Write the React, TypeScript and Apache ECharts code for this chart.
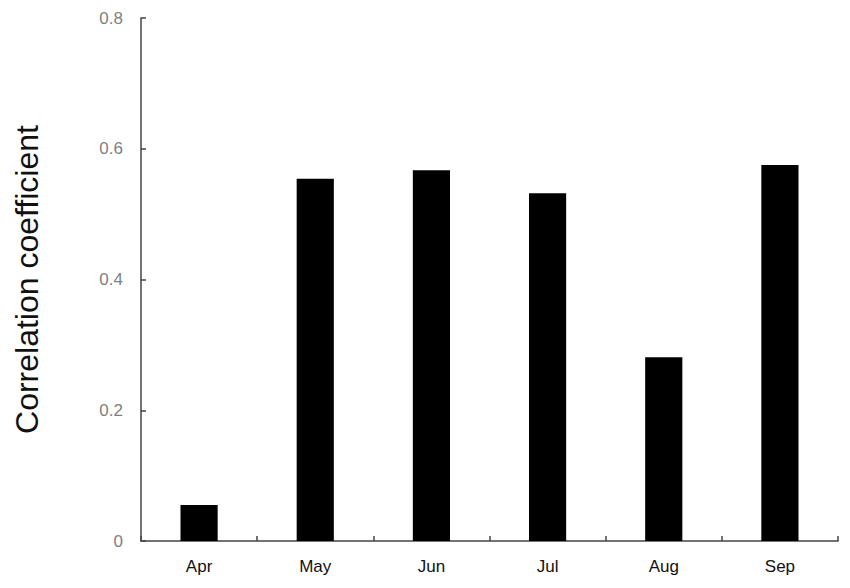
import React, { useEffect, useRef } from "react";
import * as echarts from "echarts";

const months = ["Apr", "May", "Jun", "Jul", "Aug", "Sep"];
const correlation = [0.055, 0.554, 0.567, 0.532, 0.281, 0.575];
const yTicks = [0, 0.2, 0.4, 0.6, 0.8];

const App = () => {
  const chartRef = useRef<HTMLDivElement | null>(null);

  useEffect(() => {
    if (!chartRef.current) return;
    const myChart = echarts.init(chartRef.current, undefined, { renderer: "svg" });

    const option = {
      animation: false,
      backgroundColor: "#fff",
      grid: {
        left: 141,
        right: 12,
        top: 18,
        bottom: 47,
      },
      xAxis: {
        type: "category",
        data: months,
        axisLine: {
          show: true,
          lineStyle: { color: "#444", width: 1.5 },
        },
        axisTick: {
          show: true,
          inside: true,
          length: 5,
          lineStyle: { color: "#444", width: 1.5 },
        },
        axisLabel: {
          color: "#111",
          fontFamily: "Liberation Sans, Arial, sans-serif",
          fontSize: 17,
          margin: 17,
        },
      },
      yAxis: {
        type: "value",
        min: yTicks[0],
        max: yTicks[yTicks.length - 1],
        interval: 0.2,
        name: "Correlation coefficient",
        nameLocation: "middle",
        nameGap: 98,
        nameTextStyle: {
          color: "#111",
          fontFamily: "Liberation Sans, Arial, sans-serif",
          fontSize: 32,
        },
        splitLine: { show: false },
        axisLine: {
          show: true,
          lineStyle: { color: "#444", width: 1.5 },
        },
        axisTick: {
          show: true,
          inside: true,
          length: 5,
          lineStyle: { color: "#444", width: 1.5 },
        },
        axisLabel: {
          color: "#808080",
          fontFamily: "Liberation Sans, Arial, sans-serif",
          fontSize: 17,
          margin: 18,
          formatter: (v: number) => (v === 0 ? "0" : v.toFixed(1)),
        },
      },
      series: [
        {
          type: "bar",
          data: correlation,
          barWidth: "32%",
          itemStyle: { color: "#000" },
        },
      ],
    };

    myChart.setOption(option);

    return () => {
      myChart.dispose();
    };
  }, []);

  return <div ref={chartRef} style={{ width: "850px", height: "588px", margin: "-8px" }}></div>;
};

export default App;
